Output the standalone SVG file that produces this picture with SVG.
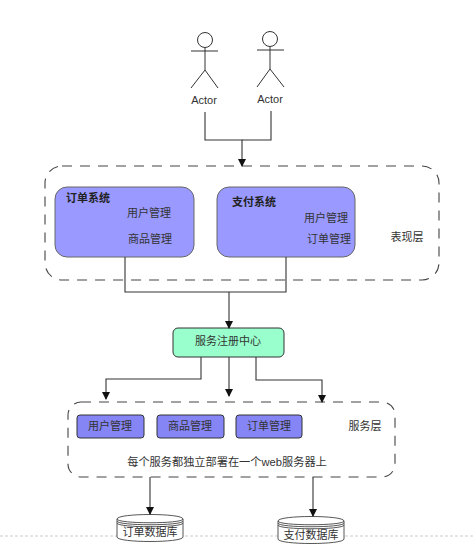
<svg xmlns="http://www.w3.org/2000/svg" width="474" height="548" viewBox="0 0 474 548">
<style>
text{font-family:"Liberation Sans","Noto Sans CJK SC",sans-serif;font-size:11px;fill:#333;text-anchor:middle}
.b{font-weight:bold;fill:#222}
.ln{fill:none;stroke:#333;stroke-width:1.1}
.act{fill:none;stroke:#333;stroke-width:1}
.dash{fill:none;stroke:#444;stroke-width:1.1;stroke-dasharray:10 8}
.sys{fill:#9999ff;stroke:#666;stroke-width:1}
.svc{fill:#8585f5;stroke:#333;stroke-width:1}
.db{fill:#fff;stroke:#444;stroke-width:.9}
.dbl{fill:none;stroke:#444;stroke-width:.9}
</style>
<defs><marker id="a" markerWidth="8" markerHeight="8" refX="7" refY="4" orient="auto" markerUnits="userSpaceOnUse"><path d="M0 0L8 4L0 8Z" fill="#111"/></marker></defs>
<rect width="474" height="548" fill="#fff"/>
<line x1="0" y1="536" x2="474" y2="536" stroke="#ccc" stroke-width="1" stroke-dasharray="3 2"/>
<g id="actor1"><circle cx="205" cy="40" r="7.5" class="act"/><path class="act" d="M205 48V70M191 51H218M191 88L205 70L218 88"/><text x="204" y="104">Actor</text></g>
<g id="actor2"><circle cx="270" cy="39" r="7.5" class="act"/><path class="act" d="M270 47V69M257 50H284M257 87L270 69L284 87"/><text x="270" y="103">Actor</text></g>
<g id="presentation"><rect x="45" y="166" width="394" height="114" rx="17" class="dash"/><text x="407" y="241">表现层</text></g>
<g id="order-system"><rect x="55" y="187" width="139" height="70" rx="12" class="sys"/><text x="88" y="202" class="b">订单系统</text><text x="149" y="217">用户管理</text><text x="150" y="243">商品管理</text></g>
<g id="pay-system"><rect x="217" y="187" width="138" height="70" rx="12" class="sys"/><text x="254" y="206" class="b">支付系统</text><text x="326" y="222">用户管理</text><text x="329" y="243">订单管理</text></g>
<g id="registry"><rect x="173" y="328" width="111" height="29" rx="5" fill="#99ffcc" stroke="#333" stroke-width="1"/><text x="228" y="345">服务注册中心</text></g>
<g id="service-layer"><rect x="68" y="402" width="327" height="75" rx="13" class="dash"/><text x="365" y="430">服务层</text><text x="227" y="466" style="font-size:11.2px">每个服务都独立部署在一个web服务器上</text></g>
<g id="svc1"><rect x="77" y="415" width="67" height="23" rx="3" class="svc"/><text x="110" y="430">用户管理</text></g>
<g id="svc2"><rect x="157" y="415" width="67" height="23" rx="3" class="svc"/><text x="190" y="430">商品管理</text></g>
<g id="svc3"><rect x="236" y="415" width="66" height="23" rx="3" class="svc"/><text x="269" y="430">订单管理</text></g>
<g id="db1"><path class="db" d="M117 519C117 513 183 513 183 519V537C183 543 117 543 117 537Z"/><path class="dbl" d="M117 519C117 524 183 524 183 519M117 521C117 526 183 526 183 521M117 523C117 528 183 528 183 523"/><text x="150" y="536">订单数据库</text></g>
<g id="db2"><path class="db" d="M278 521C278 515 344 515 344 521V539C344 545 278 545 278 539Z"/><path class="dbl" d="M278 521C278 526 344 526 344 521M278 523C278 528 344 528 344 523M278 525C278 530 344 530 344 525"/><text x="311" y="539">支付数据库</text></g>
<g id="connectors">
<path class="ln" marker-end="url(#a)" d="M205 112V140H242V166"/>
<path class="ln" d="M271 111V140H242"/>
<path class="ln" d="M125 257V292H286V257"/>
<path class="ln" marker-end="url(#a)" d="M229 292V328"/>
<path class="ln" marker-end="url(#a)" d="M201 357V379H106V399"/>
<path class="ln" marker-end="url(#a)" d="M229 357V396"/>
<path class="ln" marker-end="url(#a)" d="M256 357V380H322V402"/>
<path class="ln" marker-end="url(#a)" d="M150 477V514"/>
<path class="ln" marker-end="url(#a)" d="M313 477V516"/>
</g>
</svg>
